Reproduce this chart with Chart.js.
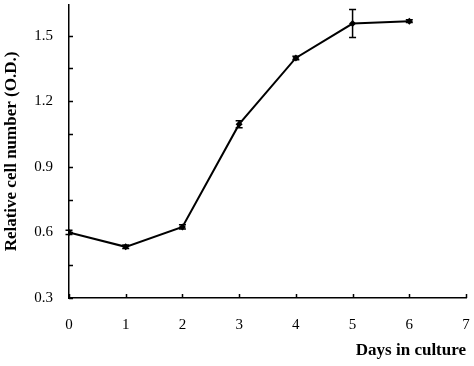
<!DOCTYPE html>
<html>
<head>
<meta charset="utf-8">
<script src="https://cdn.jsdelivr.net/npm/chart.js@4.4.1/dist/chart.umd.min.js"></script>
<style>
  html, body { margin: 0; padding: 0; background: #fff; }
  #wrap { width: 474px; height: 366px; }
</style>
</head>
<body>
<div id="wrap"><canvas id="growthChart" width="474" height="366"></canvas></div>
<script>
// growth curve data
const days = [0, 1, 2, 3, 4, 5, 6];
const relCellNumber = [0.600, 0.534, 0.625, 1.095, 1.398, 1.555, 1.566];
const errValues = [0.010, 0.008, 0.010, 0.016, 0.008, 0.064, 0.006];
const yTickValues = [0.3, 0.45, 0.6, 0.75, 0.9, 1.05, 1.2, 1.35, 1.5];
const yLabelValues = [0.3, 0.6, 0.9, 1.2, 1.5];
const xTickValues = [0, 1, 2, 3, 4, 5, 6, 7];

// error bars with small caps, and inward tick marks on both axes
const errorBarPlugin = {
  id: 'errorBars',
  afterDatasetsDraw(chart) {
    const ctx = chart.ctx;
    const xs = chart.scales.x;
    const ys = chart.scales.y;
    ctx.save();
    ctx.strokeStyle = '#000';
    ctx.lineWidth = 1.5;
    days.forEach((d, i) => {
      const x = xs.getPixelForValue(d);
      const yTop = ys.getPixelForValue(relCellNumber[i] + errValues[i]);
      const yBot = ys.getPixelForValue(relCellNumber[i] - errValues[i]);
      ctx.beginPath();
      ctx.moveTo(x, yTop);
      ctx.lineTo(x, yBot);
      ctx.moveTo(x - 3.5, yTop);
      ctx.lineTo(x + 3.5, yTop);
      ctx.moveTo(x - 3.5, yBot);
      ctx.lineTo(x + 3.5, yBot);
      ctx.stroke();
    });
    // inner tick marks
    const area = chart.chartArea;
    ctx.beginPath();
    yTickValues.forEach(v => {
      const y = Math.round(ys.getPixelForValue(v)) + 0.5;
      ctx.moveTo(area.left, y);
      ctx.lineTo(area.left + 4, y);
    });
    xTickValues.forEach(v => {
      const x = Math.round(xs.getPixelForValue(v)) + 0.5;
      ctx.moveTo(x, area.bottom);
      ctx.lineTo(x, area.bottom - 4);
    });
    ctx.stroke();
    ctx.restore();
  }
};

const ctx = document.getElementById('growthChart').getContext('2d');
const growthChart = new Chart(ctx, {
  type: 'line',
  data: {
    datasets: [
      {
        label: 'Relative cell number',
        data: days.map((d, i) => ({ x: d, y: relCellNumber[i] })),
        borderColor: '#000',
        backgroundColor: '#000',
        borderWidth: 2,
        pointStyle: 'rectRot',
        pointRadius: 3.5,
        pointBorderWidth: 0,
        tension: 0,
        fill: false,
      },
    ],
  },
  plugins: [errorBarPlugin],
  options: {
    responsive: false,
    animation: false,
    events: [],
    layout: { padding: { top: 5, right: 8, left: 0, bottom: 0 } },
    plugins: {
      legend: { display: false },
      tooltip: { enabled: false },
    },
    scales: {
      x: {
        type: 'linear',
        min: 0,
        max: 7,
        afterBuildTicks: (scale) => {
          scale.ticks = xTickValues.map(v => ({ value: v }));
        },
        afterFit: (scale) => {
          scale.height = 68;
          scale.paddingLeft = 0;
          scale.paddingRight = 0;
        },
        grid: { display: false, drawTicks: false },
        border: { color: '#000', width: 1.5 },
        ticks: {
          color: '#000',
          padding: 18,
          font: { family: 'Liberation Serif', size: 15 },
          maxRotation: 0,
        },
        title: {
          display: true,
          text: 'Days in culture',
          align: 'end',
          color: '#000',
          font: { family: 'Liberation Serif', size: 17, weight: 'bold' },
          padding: { top: 0, bottom: 5 },
        },
      },
      y: {
        type: 'linear',
        min: 0.3,
        max: 1.64,
        afterBuildTicks: (scale) => {
          scale.ticks = yTickValues.map(v => ({ value: v }));
        },
        afterFit: (scale) => {
          scale.width = 69;
          scale.paddingTop = 0;
          scale.paddingBottom = 0;
        },
        grid: { display: false, drawTicks: false },
        border: { color: '#000', width: 1.5 },
        ticks: {
          color: '#000',
          padding: 16,
          font: { family: 'Liberation Serif', size: 15 },
          callback: (value) => {
            const hit = yLabelValues.find(v => Math.abs(v - value) < 1e-6);
            return hit === undefined ? '' : hit.toFixed(1);
          },
        },
        title: {
          display: true,
          text: 'Relative cell number (O.D.)',
          color: '#000',
          font: { family: 'Liberation Serif', size: 17, weight: 'bold' },
          padding: { top: 1, bottom: 0 },
        },
      },
    },
  },
});
</script>
</body>
</html>
